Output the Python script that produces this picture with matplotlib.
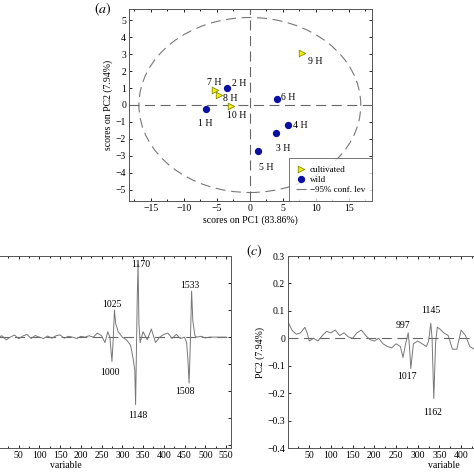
import matplotlib
matplotlib.use("Agg")
import matplotlib.pyplot as plt
import numpy as np
from matplotlib.patches import Ellipse

plt.rcParams["font.family"] = ["Liberation Serif", "DejaVu Serif"]
plt.rcParams["font.size"] = 7
plt.rcParams["mathtext.fontset"] = "stix"

# scores (a)
wild_labels = ["1 H", "2 H", "3 H", "4 H", "5 H", "6 H"]
wild_pc1 = [-6.7, -3.4, 4.0, 5.8, 1.2, 4.1]
wild_pc2 = [-0.25, 1.0, -1.65, -1.2, -2.7, 0.35]
cult_labels = ["7 H", "8 H", "9 H", "10 H"]
cult_pc1 = [-5.3, -4.7, 7.9, -2.9]
cult_pc2 = [0.9, 0.6, 3.05, -0.05]

# loadings PC1 (b)
b_var = [1, 10, 20, 30, 40, 50, 60, 70, 80, 90, 100, 110, 120, 130, 140, 150, 160, 170, 180,
         190, 200, 210, 220, 230, 240, 250, 258, 265, 270, 275, 278, 281, 284, 290, 300, 310,
         320, 326, 330, 332, 334, 336, 338, 340, 343, 350, 360, 370, 380, 390, 400, 410, 420,
         430, 440, 450, 455, 458, 461, 464, 467, 470, 475, 480, 490, 500, 510, 520, 530, 540, 550]
b_val = [0.0, 0.005, -0.01, 0.0, 0.008, -0.006, 0.004, 0.01, -0.005, 0.006, 0.0, -0.005, 0.004,
         -0.004, 0.005, 0.008, -0.004, 0.003, 0.0, -0.005, 0.003, 0.0, 0.005, 0.0, 0.015, 0.005,
         -0.02, 0.02, 0.0, -0.09, -0.01, 0.1, 0.05, 0.02, 0.0, -0.01, -0.03, -0.08, -0.12, -0.25,
         -0.05, 0.15, 0.27, 0.05, -0.02, 0.02, -0.01, 0.03, -0.02, 0.0, 0.01, 0.015, -0.005, 0.01,
         -0.005, 0.0, -0.02, -0.08, -0.17, -0.02, 0.17, 0.06, 0.005, 0.0, 0.003, -0.003, 0.0,
         0.0, 0.0, 0.0, 0.0]
b_peaks = [("1025", 275, 0.12), ("1170", 344, 0.27), ("1533", 462, 0.19),
           ("1000", 271, -0.13), ("1148", 338, -0.29), ("1508", 452, -0.2)]

# loadings PC2 (c)
c_var = [1, 10, 20, 30, 40, 45, 50, 60, 70, 80, 90, 100, 110, 120, 130, 140, 150, 160, 170,
         180, 190, 200, 210, 220, 230, 240, 250, 260, 266, 272, 278, 281, 284, 290, 300, 310,
         320, 325, 330, 333, 337, 341, 345, 350, 360, 370, 380, 390, 400, 410, 420, 430, 440,
         450, 460, 470, 480, 490, 500, 510, 520, 530, 540, 550]
c_val = [0.06, 0.03, 0.015, 0.02, 0.04, 0.02, -0.01, 0.0, -0.01, 0.01, 0.025, 0.02, 0.03, 0.01,
         0.02, 0.005, 0.0, 0.02, 0.03, 0.01, -0.005, -0.01, 0.0, -0.02, -0.03, -0.035, -0.02,
         -0.03, -0.07, -0.02, 0.02, -0.03, -0.11, -0.02, -0.01, -0.02, -0.03, -0.01, 0.055, 0.0,
         -0.22, -0.02, 0.04, 0.035, 0.02, 0.01, -0.04, -0.04, 0.03, 0.01, -0.03, -0.04, 0.0,
         0.02, -0.01, 0.01, 0.0, -0.01, 0.005, 0.0, -0.01, 0.0, 0.01, 0.0]
c_peaks = [("997", 266, 0.045), ("1145", 330, 0.1), ("1017", 276, -0.14), ("1162", 335, -0.27)]

W = H = 474
fig = plt.figure(figsize=(4.74, 4.74), dpi=100)


def px_axes(x0, y0, x1, y1):
    return fig.add_axes([x0 / W, 1 - y1 / H, (x1 - x0) / W, (y1 - y0) / H])


def style(ax):
    ax.tick_params(direction="in", top=True, right=True, length=2.5, width=0.6, pad=2)
    for s in ax.spines.values():
        s.set_linewidth(0.7)
        s.set_color("#555555")


# (a)
ax = px_axes(129, 9, 372, 201)
ax.set_xlim(-18.3, 18.5)
ax.set_ylim(-5.65, 5.65)
ax.set_xticks([-15, -10, -5, 0, 5, 10, 15])
ax.set_yticks(range(-5, 6))
ax.xaxis.set_minor_locator(plt.MultipleLocator(2.5))
ax.tick_params(which="minor", direction="in", top=True, right=True, length=1.5)
style(ax)
ax.axhline(0, color="#666666", lw=0.8, ls=(0, (9, 5)))
ax.axvline(0, color="#666666", lw=0.8, ls=(0, (9, 5)))
ax.add_patch(Ellipse((0, 0), 33.6, 10.3, fill=False, ec="#777777", lw=0.8, ls=(0, (9, 5))))
ax.scatter(cult_pc1, cult_pc2, marker=">", s=22, c="#f0f000", edgecolors="#888800", lw=0.6,
           label="cultivated", zorder=3)
ax.scatter(wild_pc1, wild_pc2, marker="o", s=18, c="#0a10a0", edgecolors="#0a10a0",
           label="wild", zorder=3)
ax.plot([], [], color="#777777", lw=0.8, ls=(0, (9, 5)), label="\u221295% conf. lev")
offs = {"1 H": (-1.2, -0.85), "2 H": (0.7, 0.25), "3 H": (0.0, -0.9), "4 H": (0.8, 0.0),
        "5 H": (0.2, -0.95), "6 H": (0.6, 0.1), "7 H": (-1.2, 0.4), "8 H": (0.6, -0.2),
        "9 H": (0.9, -0.5), "10 H": (-0.5, -0.55)}
for lab, x, y in zip(wild_labels + cult_labels, wild_pc1 + cult_pc1, wild_pc2 + cult_pc2):
    dx, dy = offs[lab]
    ax.text(x + dx, y + dy, lab, fontsize=7, va="center")
leg = ax.legend(loc="lower right", fontsize=6.5, frameon=True, fancybox=False,
                borderaxespad=0, handlelength=1.2, handletextpad=0.3, labelspacing=0.2,
                borderpad=0.8)
leg.get_frame().set_edgecolor("#555555")
leg.get_frame().set_linewidth(0.7)
ax.set_xlabel("scores on PC1 (83.86%)", labelpad=2)
ax.set_ylabel("scores on PC2 (7.94%)", labelpad=2)
fig.text(103 / W, 1 - 9 / H, "$(a)$", fontsize=10, ha="center", va="center")

# (b)
ax = px_axes(-100, 256, 231, 448)
ax.set_xlim(-236, 562)
ax.set_ylim(-0.41, 0.3)
ax.set_xticks(range(50, 551, 50))
ax.set_yticks([-0.4, -0.3, -0.2, -0.1, 0, 0.1, 0.2])
ax.set_yticklabels([])
ax.xaxis.set_minor_locator(plt.MultipleLocator(25))
ax.tick_params(which="minor", direction="in", top=True, length=1.5)
style(ax)
ax.axhline(0, color="#666666", lw=0.8, ls=(0, (9, 5)))
ax.plot(b_var, b_val, color="#777777", lw=0.7)
for lab, x, y in b_peaks:
    ax.text(x, y, lab, fontsize=7, ha="center", va="center")
ax.set_xlabel("variable", labelpad=1)

# (c)
ax = px_axes(288, 256, 600, 448)
ax.set_xlim(1, 720)
ax.set_ylim(-0.4, 0.3)
ax.set_xticks(range(50, 701, 50))
ax.set_xticklabels([str(v) if v <= 400 else "" for v in range(50, 701, 50)])
ax.set_yticks([-0.4, -0.3, -0.2, -0.1, 0, 0.1, 0.2, 0.3])
ax.set_yticklabels(["\u22120.4", "\u22120.3", "\u22120.2", "\u22120.1", "0", "0.1", "0.2", "0.3"])
ax.xaxis.set_minor_locator(plt.MultipleLocator(25))
ax.tick_params(which="minor", direction="in", top=True, length=1.5)
style(ax)
ax.axhline(0, color="#666666", lw=0.8, ls=(0, (9, 5)))
ax.plot(c_var, c_val, color="#777777", lw=0.7)
for lab, x, y in c_peaks:
    ax.text(x, y, lab, fontsize=7, ha="center", va="center")
ax.set_xlabel("variable", labelpad=1)
ax.set_ylabel("PC2 (7.94%)", labelpad=2)
fig.text(254 / W, 1 - 251 / H, "$(c)$", fontsize=10, ha="center", va="center")

fig.savefig("out.png", dpi=100)
